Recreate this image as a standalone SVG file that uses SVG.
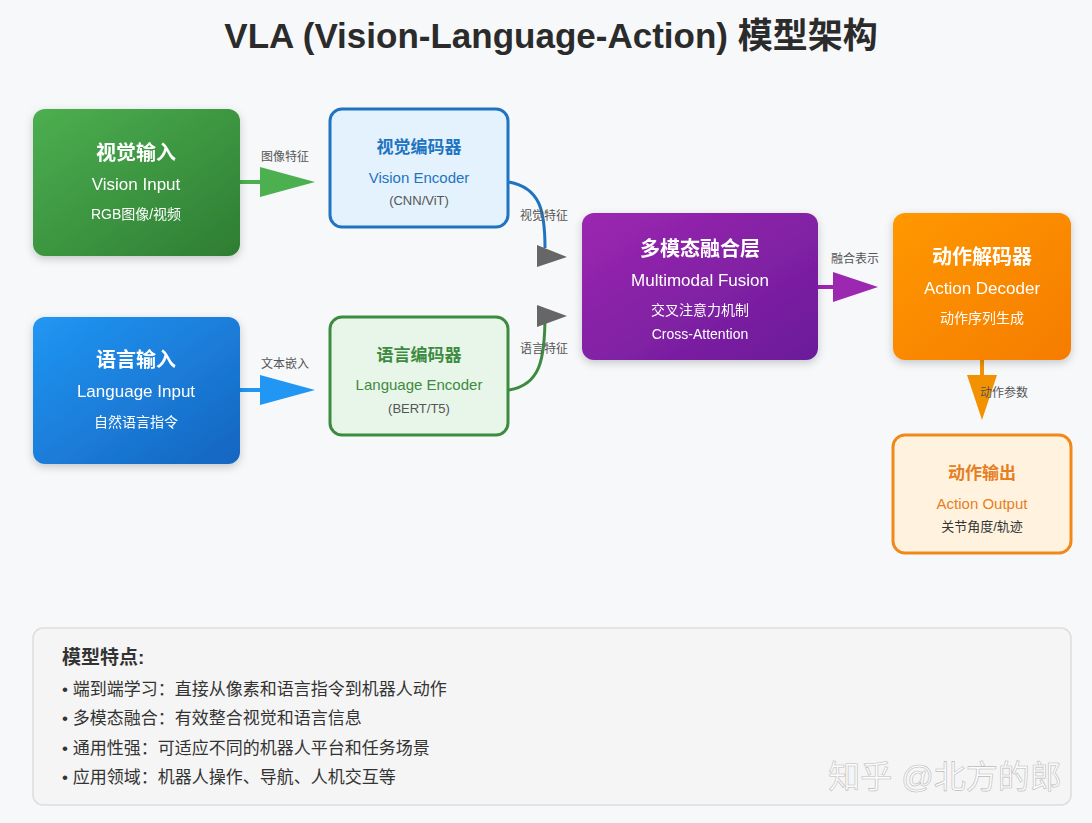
<svg xmlns="http://www.w3.org/2000/svg" width="1092" height="823" viewBox="0 0 1092 823">
<defs>
<linearGradient id="gG" x1="0" y1="0" x2="1" y2="1"><stop offset="0" stop-color="#4caf50"/><stop offset="1" stop-color="#2e7d32"/></linearGradient>
<linearGradient id="gB" x1="0" y1="0" x2="1" y2="1"><stop offset="0" stop-color="#2196f3"/><stop offset="1" stop-color="#1565c0"/></linearGradient>
<linearGradient id="gP" x1="0" y1="0" x2="1" y2="1"><stop offset="0" stop-color="#9c27b0"/><stop offset="1" stop-color="#6a1b9a"/></linearGradient>
<linearGradient id="gO" x1="0" y1="0" x2="1" y2="1"><stop offset="0" stop-color="#ff9800"/><stop offset="1" stop-color="#f57c00"/></linearGradient>
<filter id="sh" x="-20%" y="-20%" width="140%" height="150%"><feDropShadow dx="0" dy="3" stdDeviation="4" flood-opacity="0.2"/></filter>
</defs>
<style>
text{font-family:"Liberation Sans","Noto Sans CJK SC",sans-serif;text-anchor:middle}
.t{font-size:20px;font-weight:bold;fill:#fff}
.s{font-size:17px;fill:#fff}
.x{font-size:14px;fill:#fff}
.lb{font-size:12px;fill:#555}
.li{font-size:17px;fill:#333;text-anchor:start}
</style>
<rect width="1092" height="823" fill="#f7f8fa"/>
<text x="551" y="48" font-size="35" font-weight="bold" fill="#2b2b2b">VLA (Vision-Language-Action) 模型架构</text>

<g id="connectors" fill="none" stroke-width="4">
<path d="M240,182H260" stroke="#4caf50"/><path d="M260,167L315,182L260,197z" fill="#4caf50" stroke="none"/>
<path d="M240,390H260" stroke="#2196f3"/><path d="M260,375L315,390L260,405z" fill="#2196f3" stroke="none"/>
<path d="M509,182C540,188 545,210 545,248" stroke="#1f74c1" stroke-width="3"/><path d="M537,245L567,257L537,267z" fill="#666" stroke="none"/>
<path d="M509,390C540,385 545,360 545,315" stroke="#3d8b40" stroke-width="3"/><path d="M537,305L567,316L537,327z" fill="#666" stroke="none"/>
<path d="M818,287H833" stroke="#9c27b0"/><path d="M833,272L878,287L833,302z" fill="#9c27b0" stroke="none"/>
<path d="M982,360V375" stroke="#f39200"/><path d="M967,375L982,420L997,375z" fill="#f39200" stroke="none"/>
</g>
<g id="labels">
<text class="lb" x="285" y="161">图像特征</text>
<text class="lb" x="285" y="368">文本嵌入</text>
<text class="lb" x="544" y="220">视觉特征</text>
<text class="lb" x="544" y="353">语言特征</text>
<text class="lb" x="855" y="263">融合表示</text>
<text class="lb" x="1004" y="397">动作参数</text>
</g>

<g id="vision-input" filter="url(#sh)"><rect x="33" y="109" width="207" height="147" rx="12" fill="url(#gG)"/>
<text class="t" x="136" y="160">视觉输入</text><text class="s" x="136" y="190">Vision Input</text><text class="x" x="136" y="219">RGB图像/视频</text></g>
<g id="language-input" filter="url(#sh)"><rect x="33" y="317" width="207" height="147" rx="12" fill="url(#gB)"/>
<text class="t" x="136" y="367">语言输入</text><text class="s" x="136" y="397">Language Input</text><text class="x" x="136" y="427">自然语言指令</text></g>
<g id="vision-encoder"><rect x="330" y="109" width="178" height="118" rx="12" fill="#e3f2fd" stroke="#1f74c1" stroke-width="3"/>
<text x="419" y="153" font-size="17" font-weight="bold" fill="#1f74c1">视觉编码器</text><text x="419" y="183" font-size="15" fill="#1f74c1">Vision Encoder</text><text x="419" y="205" font-size="13" fill="#555">(CNN/ViT)</text></g>
<g id="language-encoder"><rect x="330" y="317" width="178" height="118" rx="12" fill="#e8f5e9" stroke="#3d8b40" stroke-width="3"/>
<text x="419" y="361" font-size="17" font-weight="bold" fill="#3d8b40">语言编码器</text><text x="419" y="390" font-size="15" fill="#3d8b40">Language Encoder</text><text x="419" y="413" font-size="13" fill="#555">(BERT/T5)</text></g>
<g id="fusion" filter="url(#sh)"><rect x="582" y="213" width="236" height="147" rx="12" fill="url(#gP)"/>
<text class="t" x="700" y="256">多模态融合层</text><text class="s" x="700" y="286">Multimodal Fusion</text><text class="x" x="700" y="315">交叉注意力机制</text><text class="x" x="700" y="339">Cross-Attention</text></g>
<g id="action-decoder" filter="url(#sh)"><rect x="893" y="213" width="178" height="147" rx="12" fill="url(#gO)"/>
<text class="t" x="982" y="264">动作解码器</text><text class="s" x="982" y="294">Action Decoder</text><text class="x" x="982" y="323">动作序列生成</text></g>
<g id="action-output"><rect x="893" y="435" width="178" height="118" rx="12" fill="#fff3e0" stroke="#f0891a" stroke-width="3"/>
<text x="982" y="479" font-size="17" font-weight="bold" fill="#e67e22">动作输出</text><text x="982" y="509" font-size="15" fill="#e67e22">Action Output</text><text x="982" y="531" font-size="13" fill="#333">关节角度/轨迹</text></g>

<g id="features"><rect x="33" y="628" width="1038" height="177" rx="10" fill="#f5f5f5" stroke="#ddd" stroke-width="1.5"/>
<text x="62" y="664" font-size="19" font-weight="bold" fill="#333" style="text-anchor:start">模型特点:</text>
<text class="li" x="62" y="695">• 端到端学习：直接从像素和语言指令到机器人动作</text>
<text class="li" x="62" y="724">• 多模态融合：有效整合视觉和语言信息</text>
<text class="li" x="62" y="754">• 通用性强：可适应不同的机器人平台和任务场景</text>
<text class="li" x="62" y="783">• 应用领域：机器人操作、导航、人机交互等</text>
</g>
<text x="945" y="788" font-size="32" fill="#fff" stroke="#bbb" stroke-width="0.6" fill-opacity="0.8">知乎 @北方的郎</text>
</svg>
